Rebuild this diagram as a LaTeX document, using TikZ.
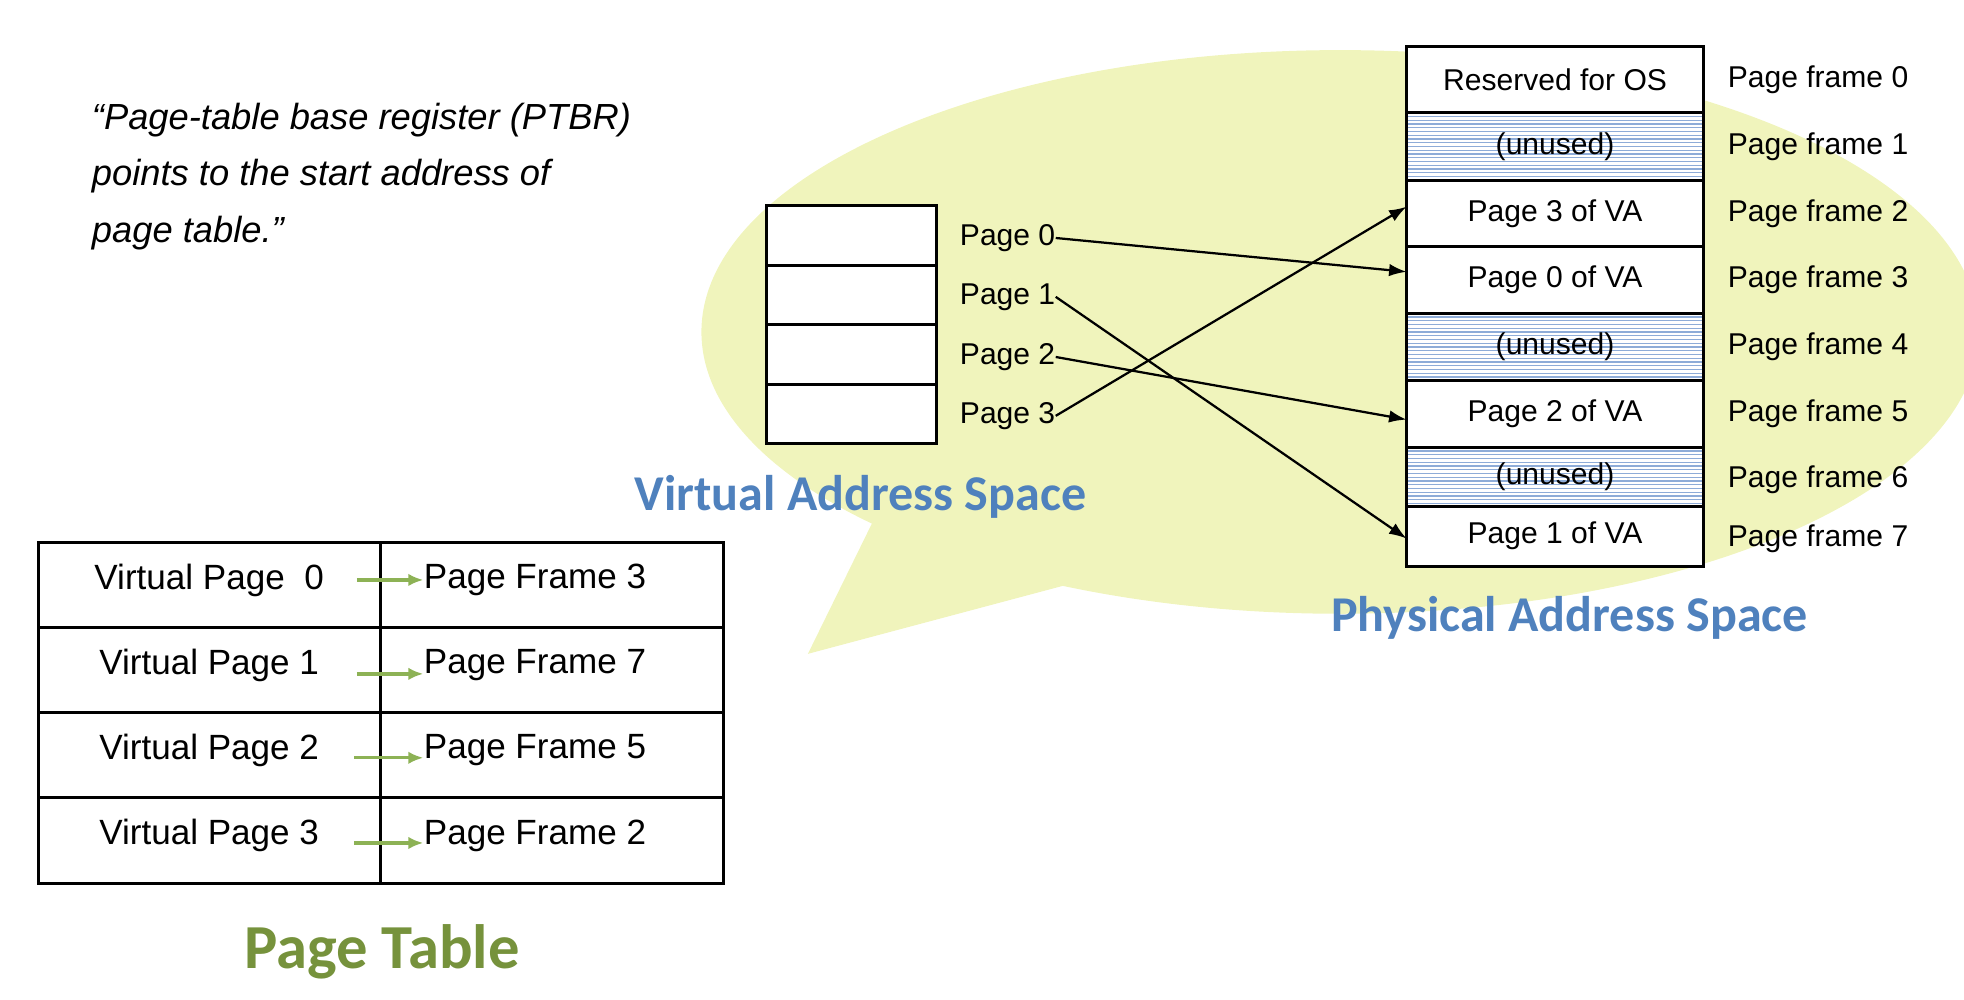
\documentclass[tikz,border=0pt]{standalone}
\usepackage{fontspec}
\setmainfont{Liberation Sans}
\newfontfamily\titlefont{Carlito}
\usetikzlibrary{arrows.meta}
\definecolor{bubble}{HTML}{F0F4BC}
\definecolor{hatch}{HTML}{8EACD8}
\definecolor{bluet}{HTML}{4F81BD}
\definecolor{greent}{HTML}{76923C}
\definecolor{garrow}{HTML}{8DB255}
\begin{document}
\begin{tikzpicture}[x=0.5pt,y=-0.5pt,
  cell/.style={draw=black,line width=1.2pt},
  lbl/.style={font=\fontsize{12}{14}\selectfont,inner sep=0pt},
  pt/.style={font=\fontsize{14}{16}\selectfont,inner sep=0pt},
  title/.style={font=\titlefont\bfseries\fontsize{20}{24}\selectfont},
  arr/.style={-{Latex[length=7pt,width=5pt]},line width=0.9pt},
  garr/.style={-{Latex[length=6pt,width=5pt]},garrow,line width=1.3pt}]
\useasboundingbox (0,0) rectangle (1568,798);
% bubble
\fill[bubble] (1070,265) ellipse [x radius=510, y radius=225];
\fill[bubble] (700,410) -- (645,522) -- (870,462) -- cycle;
% physical memory
\foreach \a/\b in {90/144,250/304,357/404}{
  \fill[white] (1123,\a) rectangle (1360,\b);
  \foreach \y in {\a,...,\b}{}
  \pgfmathsetmacro{\n}{int((\b-\a)/3)}
  \foreach \k in {1,...,\n}{\draw[hatch,line width=0.5pt] (1123,\a+3*\k) -- (1360,\a+3*\k);}
}
\foreach \a/\b in {37/90,144/197,197/250,304/357,404/452}{\fill[white] (1123,\a) rectangle (1360,\b);}
\draw[cell] (1123,37) rectangle (1360,452);
\foreach \y in {90,144,197,250,304,357,404}{\draw[cell] (1123,\y) -- (1360,\y);}
\node[lbl] (f0) at (1241.5,63.5) {Reserved for OS};
\node[lbl] (f1) at (1241.5,117) {(unused)};
\node[lbl] (f2) at (1241.5,170.5) {Page 3 of VA};
\node[lbl] (f3) at (1241.5,223.5) {Page 0 of VA};
\node[lbl] (f4) at (1241.5,277) {(unused)};
\node[lbl] (f5) at (1241.5,330.5) {Page 2 of VA};
\node[lbl] (f6) at (1241.5,380.5) {(unused)};
\node[lbl] (f7) at (1241.5,428) {Page 1 of VA};
\foreach \i/\y in {0/63.5,1/117,2/170.5,3/223.5,4/277,5/330.5,6/383,7/430}{
  \node[lbl,anchor=west] (pf\i) at (1379,\y) {Page frame \i};}
\coordinate (in2) at (1123,165);
\coordinate (in3) at (1123,217);
\coordinate (in5) at (1123,335);
\coordinate (in7) at (1123,430);
% virtual space
\fill[white] (612,164) rectangle (748,354);
\draw[cell] (612,164) rectangle (748,354);
\foreach \y in {212,259,307}{\draw[cell] (612,\y) -- (748,\y);}
\foreach \i/\y in {0/190,1/237,2/285,3/332}{
  \node[lbl,anchor=west] (vp\i) at (766,\y) {Page \i};}
\draw[arr] (vp0.east) -- (in3);
\draw[arr] (vp1.east) -- (in7);
\draw[arr] (vp2.east) -- (in5);
\draw[arr] (vp3.east) -- (in2);
\node[title,text=bluet] (vas) at (687,397) {Virtual Address Space};
\node[title,text=bluet] (pas) at (1253,493) {Physical Address Space};
% quote
\node[anchor=north west,align=left,font=\itshape\fontsize{14.5}{22.5}\selectfont,inner sep=0pt] (q) at (73,82)
  {“Page-table base register (PTBR)\\points to the start address of\\page table.”};
% page table
\draw[cell] (31,433) rectangle (578,705);
\draw[cell] (304,433) -- (304,705);
\foreach \y in {501,569,637}{\draw[cell] (31,\y) -- (578,\y);}
\node[pt] (v0) at (167,463) {Virtual Page\ \ 0};
\node[pt] (v1) at (167,531) {Virtual Page 1};
\node[pt] (v2) at (167,599) {Virtual Page 2};
\node[pt] (v3) at (167,667) {Virtual Page 3};
\node[pt,anchor=west] (p0) at (338,463) {Page Frame 3};
\node[pt,anchor=west] (p1) at (338,531) {Page Frame 7};
\node[pt,anchor=west] (p2) at (338,599) {Page Frame 5};
\node[pt,anchor=west] (p3) at (338,667) {Page Frame 2};
\draw[garr] (285,463) -- (p0.west);
\draw[garr] (285,538) -- (p1.west |- 0,538);
\draw[garr] (283,605) -- (p2.west |- 0,605);
\draw[garr] (283,673) -- (p3.west |- 0,673);
\node[title,text=greent,font=\titlefont\bfseries\fontsize{25}{30}\selectfont] (pt) at (305,760) {Page Table};
\end{tikzpicture}
\end{document}
